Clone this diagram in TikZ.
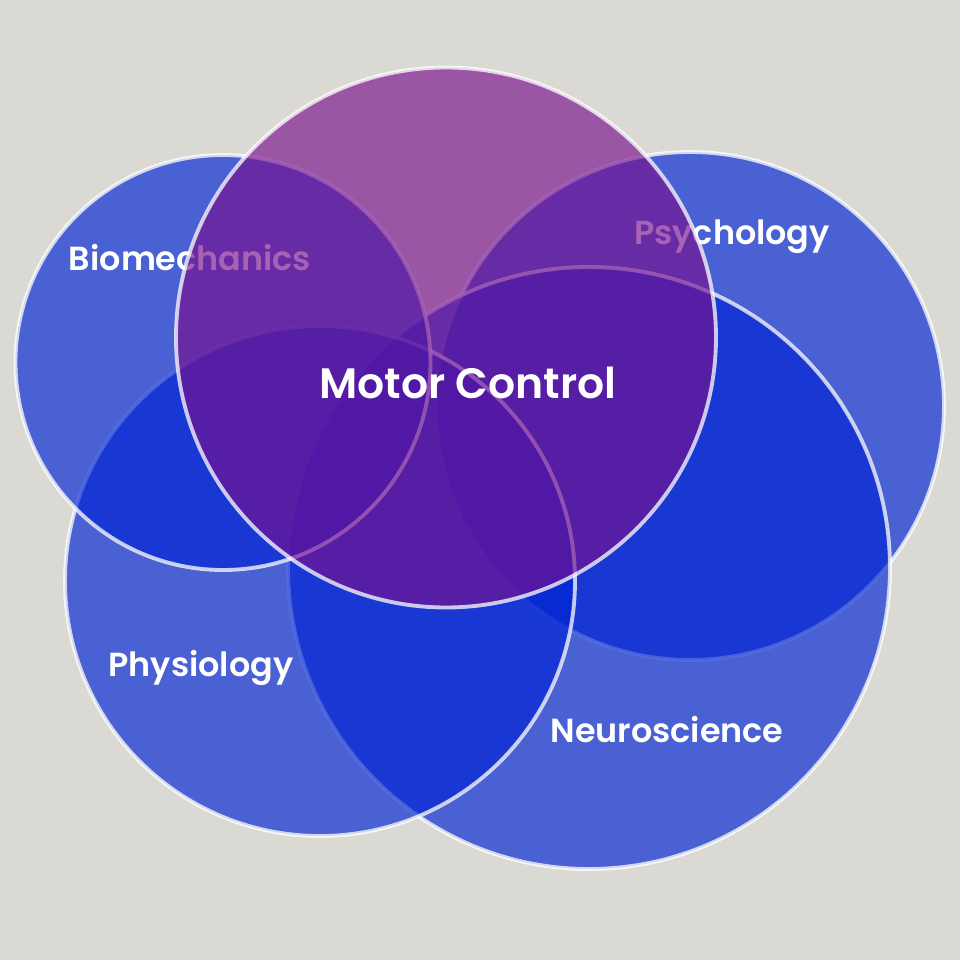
\documentclass[tikz,border=0pt]{standalone}
\usepackage{fontspec}
\newfontfamily\labelfont{Poppins SemiBold}
\usepackage{xcolor}
\usepackage{tikz}
\definecolor{bgcol}{RGB}{218,217,212}
\definecolor{fieldcol}{RGB}{0,35,211}
\definecolor{corecol}{RGB}{120,15,141}

\begin{document}
\begin{tikzpicture}[
  field/.style={fill=fieldcol, fill opacity=0.66, draw=white,
                draw opacity=0.75, line width=1.1pt},
  core/.style={field, fill=corecol, fill opacity=0.65},
  lbl/.style={text=white, inner sep=0pt,
              font=\labelfont\fontsize{9.5}{12}\selectfont},
  biglbl/.style={lbl, font=\labelfont\fontsize{12.1}{15}\selectfont}
]
  \fill[bgcol] (0,0) rectangle (9.6,9.6);
  \useasboundingbox (0,0) rectangle (9.6,9.6);

  % neighbouring fields, back to front
  \draw[field] (6.90,5.54) circle (2.54);
  \node[lbl, anchor=base] (psy) at (7.32,7.16) {Psychology};

  \draw[field] (5.89,3.92) circle (3.01);
  \node[lbl, anchor=base] (neuro) at (6.67,2.18) {Neuroscience};

  \draw[field] (3.20,3.79) circle (2.55);
  \node[lbl, anchor=base] (phys) at (2.01,2.83) {Physiology};

  \draw[field] (2.23,5.975) circle (2.075);
  \node[lbl, anchor=base] (bio) at (1.90,6.90) {Biomechanics};

  % the core on top
  \draw[core] (4.46,6.225) circle (2.70);
  \node[biglbl, anchor=base] (motor) at (4.68,5.62) {Motor Control};
\end{tikzpicture}
\end{document}
